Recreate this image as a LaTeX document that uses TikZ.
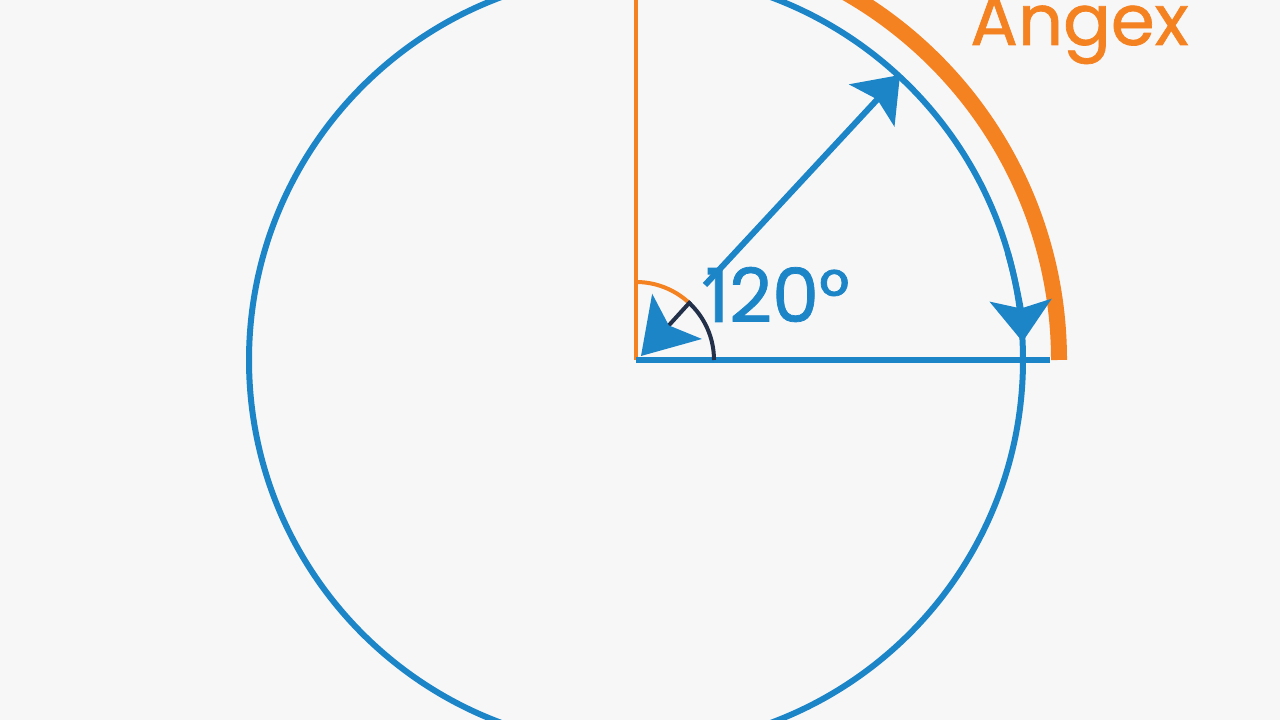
\documentclass[tikz,border=0pt]{standalone}
\usepackage{fontspec}
\setmainfont{Poppins}[FakeBold=1]
\usetikzlibrary{arrows.meta}
\definecolor{cblue}{HTML}{1C85C8}
\definecolor{corange}{HTML}{F58220}
\definecolor{cnavy}{HTML}{23304A}
\definecolor{cback}{HTML}{F7F7F7}
\begin{document}
\begin{tikzpicture}[x=0.75pt,y=0.75pt,
  bluetip/.style={-{Stealth[length=31pt,width=46pt,inset=6pt]}}]
   \fill[cback] (0,0) rectangle (1280,720);
   \useasboundingbox (0,0) rectangle (1280,720);
   \clip (0,0) rectangle (1280,720);
   \coordinate (O) at (636,360);
   \coordinate (top) at (636,730);
   \coordinate (end) at (1050,360);
   \coordinate (start) at (705,435);
   \coordinate (rim) at (900,645);
   \coordinate (tipc) at (641,364);
   % circle and radius
   \draw[cblue, line width=4.5pt] (O) circle (387);
   \draw[corange, line width=3.5pt] (O) -- (top);
   \draw[cblue, line width=4.5pt] (O) -- (end);
   % outer arc
   \draw[corange, line width=12pt] (O) ++(62:423) arc[start angle=62, end angle=0, radius=423];
   % arrows
   \draw[cblue, line width=4.5pt, bluetip] (start) -- (rim);
   \draw[cblue, line width=4.5pt, bluetip] (O) ++(16:387) arc[start angle=16, end angle=2.7, radius=387];
   % angle marks
   \draw[corange, line width=3pt] (O) ++(90:78) arc[start angle=90, end angle=48, radius=78];
   \draw[cnavy, line width=3pt] (O) ++(48:78) arc[start angle=48, end angle=0, radius=78];
   \draw[cnavy, line width=3pt, -{Stealth[length=40pt,width=50pt,inset=9pt,color=cblue]}] (O) ++(47:80) -- (tipc);
   % labels
   \node[cblue, font=\fontsize{56}{56}\selectfont, anchor=base west, inner sep=0pt] (ang) at (705,398) {120°};
   \node[corange, font=\fontsize{53}{53}\selectfont, anchor=base west, inner sep=0pt] (lab) at (970,675) {Angex};
\end{tikzpicture}
\end{document}
